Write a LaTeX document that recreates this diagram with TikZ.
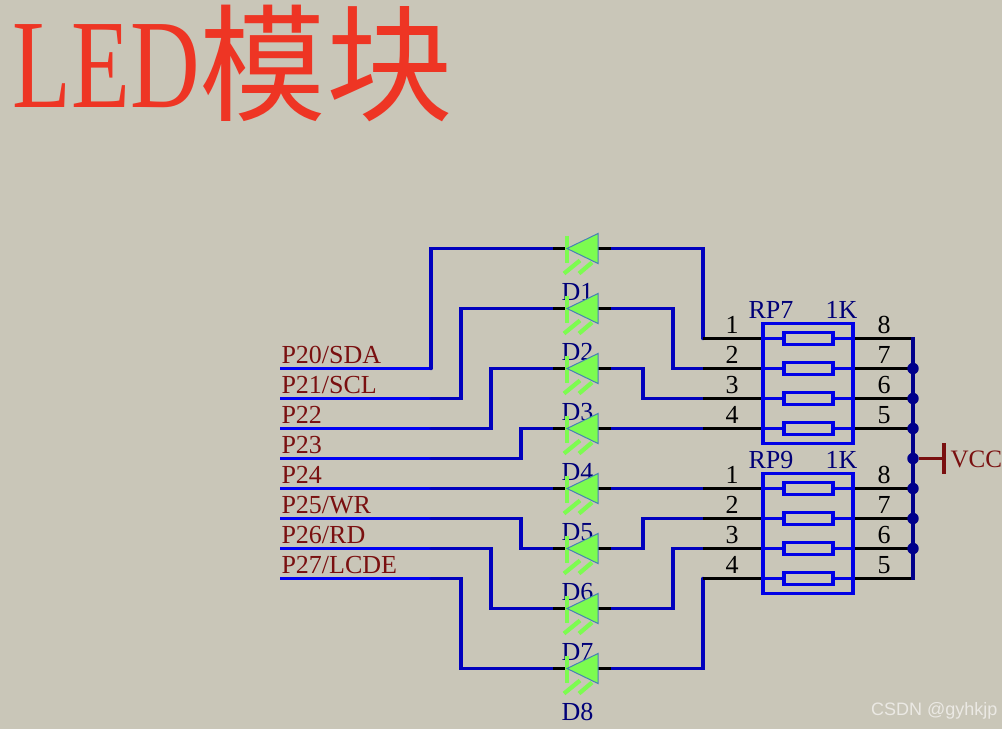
\documentclass[tikz,border=0pt]{standalone}
\usepackage{graphicx}
\usepackage{fontspec}
\setmainfont{Liberation Serif}
\setsansfont{Liberation Sans}
\newfontfamily\cjk{Noto Sans CJK SC}

\definecolor{sheet}{RGB}{201,198,184}
\definecolor{titlered}{RGB}{238,53,36}
\definecolor{wirepin}{RGB}{0,0,245}
\definecolor{wireblue}{RGB}{0,0,190}
\definecolor{boxblue}{RGB}{0,0,230}
\definecolor{busnavy}{RGB}{0,0,139}
\definecolor{labelnavy}{RGB}{0,0,120}
\definecolor{labelred}{RGB}{122,16,16}
\definecolor{ledgreen}{RGB}{124,252,80}
\definecolor{ledline}{RGB}{70,130,180}

\tikzset{every picture/.style={line width=0.75pt}}
\tikzset{
  wire/.style={color=wireblue,line width=2.6pt,line cap=round,line join=miter},
  stub/.style={color=wirepin,line width=2.6pt},
  lead/.style={color=black,line width=2.6pt},
  netbox/.style={draw=boxblue,line width=2.6pt,minimum width=67.5pt,minimum height=90pt,inner sep=0pt,outer sep=0pt},
  resbox/.style={draw=boxblue,line width=2.6pt,minimum width=36.75pt,minimum height=9pt,inner sep=0pt,outer sep=0pt},
  joint/.style={circle,fill=busnavy,minimum size=8.6pt,inner sep=0pt},
  netlabel/.style={anchor=base west,inner sep=0pt,font=\fontsize{19.5}{22}\selectfont,text=labelred},
  partlabel/.style={anchor=base west,inner sep=0pt,font=\fontsize{19.5}{22}\selectfont,text=labelnavy},
  pinlabel/.style={anchor=base,inner sep=0pt,font=\fontsize{19.5}{22}\selectfont,text=black},
  ledbar/.style={color=ledgreen,line width=3.2pt}
}

\begin{document}
\begin{tikzpicture}[x=0.75pt,y=0.75pt,yscale=-1]
\useasboundingbox (0,0) rectangle (1002,728);
\fill[sheet] (-2,-2) rectangle (1004,730);

% Title
\node[anchor=base west,inner sep=0pt,text=titlered] (title) at (12,107)
  {\fontsize{95}{100}\selectfont\scalebox{.76}[1]{LED}\raisebox{-3.5pt}{\cjk 模块}};

% Wires, LED by LED
\foreach \n/\name/\py/\lx/\y/\rx/\ry in {
  1/P20\slash SDA/368.5/431/248.5/703/338.5,
  2/P21\slash SCL/398.5/461/308.5/673/368.5,
  3/P22/428.5/491/368.5/643/398.5,
  4/P23/458.5/521/428.5/703/428.5,
  5/P24/488.5/521/488.5/703/488.5,
  6/P25\slash WR/518.5/521/548.5/643/518.5,
  7/P26\slash RD/548.5/491/608.5/673/548.5,
  8/P27\slash LCDE/578.5/461/668.5/703/578.5}{
  \coordinate (pin\n) at (280,\py);
  \coordinate (mid\n) at (431,\py);
  \coordinate (ka\n) at (553,\y);
  \coordinate (an\n) at (611,\y);
  \coordinate (end\n) at (703,\ry);
  \node[netlabel] (net\n) at (281,\py-5.5) {\name};
  \node[partlabel] (D\n) at (561,\y+51.5) {D\n};
  \draw[stub] (pin\n) -- (mid\n);
  \draw[wire] (mid\n) -- (\lx,\py) -- (\lx,\y) -- (ka\n);
  \draw[wire] (an\n) -- (\rx,\y) -- (\rx,\ry) -- (end\n);
}

% LED symbols, on top of the D labels
\foreach \n/\y in {1/248.5,2/308.5,3/368.5,4/428.5,5/488.5,6/548.5,7/608.5,8/668.5}{
  \coordinate (tip\n) at (567,\y);
  \draw[lead] (ka\n) -- (tip\n);
  \draw[lead] (598,\y) -- (an\n);
  \draw[ledbar] (567,\y-13) -- (567,\y+14);
  \draw[ledbar] (564,\y+25) -- (580,\y+12);
  \draw[ledbar] (579,\y+25) -- (592,\y+14);
  \draw[draw=ledline,fill=ledgreen,line width=0.75pt] (tip\n) -- (598,\y-15) -- (598,\y+15) -- cycle;
}

% Resistor networks
\foreach \r/\c in {7/383.5,9/533.5}{
  \foreach \k/\a/\b in {1/1/8,2/2/7,3/3/6,4/4/5}{
    \coordinate (l\r\k) at (703,\c-75+30*\k);
    \coordinate (r\r\k) at (913,\c-75+30*\k);
    \node[pinlabel] (pa\r\k) at (732,\c-80.5+30*\k) {\a};
    \node[pinlabel] (pb\r\k) at (884,\c-80.5+30*\k) {\b};
    \node[resbox] (R\r\k) at (808.5,\c-75+30*\k) {};
    \draw[lead] (l\r\k) -- (763,\c-75+30*\k);
    \draw[lead] (853,\c-75+30*\k) -- (r\r\k);
    \draw[boxblue,line width=2.6pt] (763,\c-75+30*\k) -- (R\r\k.west);
    \draw[boxblue,line width=2.6pt] (R\r\k.east) -- (853,\c-75+30*\k);
  }
  \node[netbox] (RP\r) at (808,\c) {};
  \node[partlabel] (name\r) at (748,\c-65) {RP\r};
  \node[partlabel] (val\r) at (825,\c-65) {1K};
}

% Supply rail
\coordinate (railtop) at (913,337);
\coordinate (railend) at (913,580);
\draw[color=busnavy,line width=2.6pt] (railtop) -- (railend);
\foreach \j/\y in {1/368.5,2/398.5,3/428.5,4/458.5,5/488.5,6/518.5,7/548.5}{
  \node[joint] (j\j) at (913,\y) {};
}
\coordinate (vccbar) at (944,458.5);
\draw[color=labelred,line width=2.6pt] (j4) -- (vccbar);
\draw[color=labelred,line width=2.6pt] (944,443) -- (944,474);
\node[netlabel,font=\fontsize{18.8}{22}\selectfont] (vcc) at (950,467) {VCC};

% Watermark
\node[anchor=base east,inner sep=0pt,text=white!62!sheet,font=\sffamily\fontsize{13.5}{16}\selectfont] (mark) at (998,715) {CSDN @gyhkjp};

\end{tikzpicture}
\end{document}
